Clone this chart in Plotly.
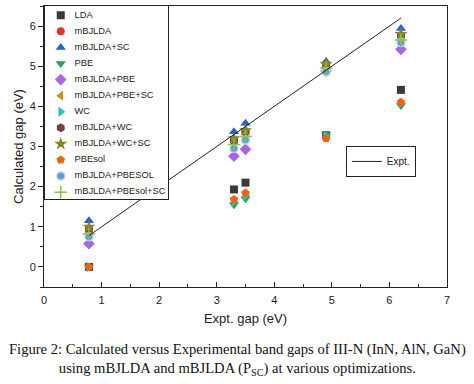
import plotly.graph_objects as go

expt_x = [0.78, 3.3, 3.5, 4.9, 6.2]
expt_y = [0.78, 3.3, 3.5, 4.9, 6.2]

names = ["LDA", "mBJLDA", "mBJLDA+SC", "PBE", "mBJLDA+PBE", "mBJLDA+PBE+SC",
         "WC", "mBJLDA+WC", "mBJLDA+WC+SC", "PBEsol", "mBJLDA+PBESOL", "mBJLDA+PBEsol+SC"]

lda = [0.0, 1.93, 2.10, 3.28, 4.41]
mbjlda = [0.95, 3.15, 3.38, 5.00, 5.75]
mbjlda_sc = [1.15, 3.37, 3.58, 5.12, 5.94]
pbe = [0.0, 1.55, 1.70, 3.30, 4.02]
mbjlda_pbe = [0.58, 2.76, 2.93, 4.88, 5.42]
mbjlda_pbe_sc = [0.88, 3.12, 3.32, 5.02, 5.73]
wc = [0.0, 1.62, 1.78, 3.26, 4.08]
mbjlda_wc = [0.92, 3.14, 3.35, 4.98, 5.77]
mbjlda_wc_sc = [1.00, 3.20, 3.40, 5.06, 5.80]
pbesol = [0.0, 1.68, 1.84, 3.20, 4.10]
mbjlda_pbesol = [0.75, 2.95, 3.16, 4.86, 5.59]
mbjlda_pbesol_sc = [0.82, 3.05, 3.25, 4.95, 5.65]

series = [lda, mbjlda, mbjlda_sc, pbe, mbjlda_pbe, mbjlda_pbe_sc,
          wc, mbjlda_wc, mbjlda_wc_sc, pbesol, mbjlda_pbesol, mbjlda_pbesol_sc]

symbols = ["square", "circle", "triangle-up", "triangle-down", "diamond", "triangle-left",
           "triangle-right", "hexagon", "star", "pentagon", "circle", "cross-thin"]
colors = ["#3a3a3a", "#e8302e", "#1f63d6", "#2e9e5e", "#a866e6", "#c8941c",
          "#22c4cc", "#7a3e44", "#86861e", "#f2630e", "#5a9ad6", "#8cc43c"]
sizes = [8, 8, 9, 9, 9, 9, 9, 9, 10, 9, 8, 9]


def make_marker(nm, sym, col, sz):
    if sym == "cross-thin":
        return dict(symbol=sym, color=col, size=sz, line=dict(color=col, width=1.5))
    if nm == "mBJLDA+PBESOL":
        return dict(symbol=sym, color=col, size=sz, line=dict(color="#b8d4f0", width=1.5))
    return dict(symbol=sym, color=col, size=sz, line=dict(width=0))


fig = go.Figure()

# data
for nm, ys, sym, col, sz in zip(names, series, symbols, colors, sizes):
    fig.add_trace(go.Scatter(x=expt_x, y=ys, mode="markers", name=nm,
                             marker=make_marker(nm, sym, col, sz), showlegend=False,
                             xaxis="x", yaxis="y"))

fig.add_trace(go.Scatter(x=expt_x, y=expt_y, mode="lines", name="Expt.",
                         line=dict(color="#222", width=1), legend="legend2",
                         xaxis="x", yaxis="y"))

# legend panel for the series (drawn as its own small subplot)
idx = list(range(len(names)))
for i, (nm, sym, col, sz) in enumerate(zip(names, symbols, colors, sizes)):
    fig.add_trace(go.Scatter(x=[0.128], y=[i], mode="markers",
                             marker=make_marker(nm, sym, col, sz), showlegend=False,
                             hoverinfo="skip", xaxis="x2", yaxis="y2"))
fig.add_trace(go.Scatter(x=[0.24] * len(names), y=idx, mode="text", text=names,
                         textposition="middle right", cliponaxis=False,
                         textfont=dict(size=9.3, color="#222"), showlegend=False,
                         hoverinfo="skip", xaxis="x2", yaxis="y2"))

fig.update_layout(
    width=474, height=384,
    margin=dict(l=44, r=27, t=6, b=97),
    paper_bgcolor="white", plot_bgcolor="white",
    font=dict(family="Liberation Sans, Arial", color="#222", size=11),
    legend2=dict(x=0.749, y=0.502, xanchor="left", yanchor="top",
                 bordercolor="#222", borderwidth=1, bgcolor="white",
                 font=dict(size=10), itemwidth=30),
    xaxis=dict(range=[0, 7], dtick=1, showgrid=False, zeroline=False,
               showline=True, linecolor="#222", linewidth=1, mirror=True,
               ticks="inside", ticklen=5, tickcolor="#222", ticklabelstandoff=3,
               minor=dict(ticks="inside", ticklen=3, dtick=0.5, tickcolor="#222"),
               automargin=False,
               title=dict(text="Expt. gap (eV)", font=dict(size=13), standoff=8)),
    yaxis=dict(range=[-0.5, 6.5], dtick=1, showgrid=False, zeroline=False,
               showline=True, linecolor="#222", linewidth=1, mirror=True,
               ticks="outside", ticklen=5, tickcolor="#222",
               minor=dict(ticks="outside", ticklen=3, dtick=0.5, tickcolor="#222"),
               automargin=False,
               title=dict(text="Calculated gap (eV)", font=dict(size=13), standoff=3)),
    xaxis2=dict(domain=[0.0025, 0.3077], range=[0, 1], showgrid=False, zeroline=False,
                showticklabels=False, ticks="", showline=True, linecolor="#222",
                linewidth=1, mirror=True, fixedrange=True, anchor="y2"),
    yaxis2=dict(domain=[0.313, 0.999], range=[11.43, -0.56], showgrid=False, zeroline=False,
                showticklabels=False, ticks="", showline=True, linecolor="#222",
                linewidth=1, mirror=True, fixedrange=True, anchor="x2"),
)

fig.add_annotation(
    text="Figure 2: Calculated versus Experimental band gaps of III-N (InN, AlN, GaN)<br>"
         "using mBJLDA and mBJLDA (P<sub>SC</sub>) at various optimizations.",
    xref="paper", yref="paper", x=0.479, y=-0.185, xanchor="center", yanchor="top",
    showarrow=False, align="center",
    font=dict(family="Liberation Serif, Times New Roman", size=14.6, color="#111"))

fig.write_html("out.html", config={"displayModeBar": False},
               post_script="document.body.style.margin='0';")
